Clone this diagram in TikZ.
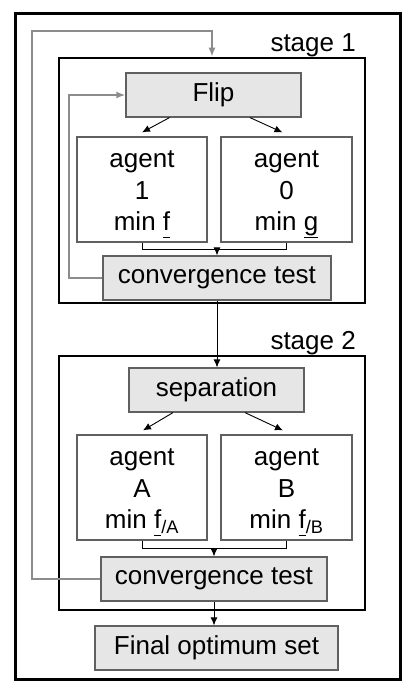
\documentclass[tikz,border=0pt]{standalone}
\usepackage{fontspec}
\setmainfont{Liberation Sans}
\usetikzlibrary{arrows.meta}
\definecolor{boxfill}{HTML}{E6E6E6}
\definecolor{boxline}{HTML}{606060}
\definecolor{fbline}{HTML}{8C8C8C}
\newcommand{\ulvec}[1]{\underline{#1\vphantom{g}}}
\newcommand{\toppad}{\rule{0pt}{27pt}}
\tikzset{
  txt/.style={font=\fontsize{26}{31.5}\selectfont, inner sep=0pt},
  graybox/.style={txt, draw=boxline, line width=1.2pt, fill=boxfill, minimum height=44pt},
  agentbox/.style={txt, draw=boxline, line width=1.2pt, fill=white, align=center, minimum width=130pt, minimum height=105pt},
  stagebox/.style={draw=black, line width=2.5pt, minimum width=306pt, inner sep=0pt},
  arr/.style={draw=black, line width=0.9pt, -{Latex[length=8pt,width=7pt]}},
  plain/.style={draw=black, line width=0.9pt},
  fb/.style={draw=fbline, line width=2pt, -{Latex[length=9pt,width=7pt]}}
}
\begin{document}
\begin{tikzpicture}[x=1pt,y=-1pt]
\useasboundingbox (0,0) rectangle (415,685);
\draw[line width=3pt] (15,14) rectangle (400,679);
% stage 1
\node[stagebox, minimum height=245pt] (stage1) at (212,180.5) {};
\node[txt, anchor=base east] (lab1) at (356,52) {stage 1};
\node[graybox, minimum width=175pt] (flip) at (213.5,95) {Flip};
\node[agentbox] (a1) at (142,189.5) {\toppad agent\\1\\min \ulvec{f}};
\node[agentbox, minimum width=131pt] (a0) at (286.5,189.5) {\toppad agent\\0\\min \ulvec{g}};
\node[graybox, minimum width=228pt] (conv1) at (217,278) {convergence test};
% stage 2
\node[stagebox, minimum height=254pt] (stage2) at (212,483) {};
\node[txt, anchor=base east] (lab2) at (356,349) {stage 2};
\node[graybox, minimum width=175pt] (sep) at (216.5,390) {separation};
\node[agentbox] (aA) at (142,487.5) {\toppad agent\\A\\min \ulvec{f}\textsubscript{/A}};
\node[agentbox, minimum width=131pt] (aB) at (286.5,487.5) {\toppad agent\\B\\min \ulvec{f}\textsubscript{/B}};
\node[graybox, minimum width=226pt] (conv2) at (214,579) {convergence test};
\node[graybox, minimum width=243pt] (final) at (216.5,648) {Final optimum set};
% connectors stage 1
\draw[arr] ([xshift=-44pt]flip.south) -- ([yshift=4pt]a1.north);
\draw[arr] ([xshift=36.5pt]flip.south) -- ([xshift=-4pt,yshift=4pt]a0.north);
\draw[plain] (a1.south) -- ++(0,7) coordinate (j1) -| (a0.south);
\draw[arr] (j1 -| conv1.north) -- (conv1.north);
\draw[fb] (conv1.west) -- ++(-33,0) |- (flip.west);
\draw[arr] (conv1.south) -- (conv1.south |- sep.north);
% connectors stage 2
\draw[arr] ([xshift=-43.5pt]sep.south) -- ([xshift=1pt,yshift=4pt]aA.north);
\draw[arr] ([xshift=28.5pt]sep.south) -- ([xshift=-3.5pt,yshift=4pt]aB.north);
\draw[plain] (aA.south) -- ++(0,8) coordinate (j2) -| (aB.south);
\draw[arr] (j2 -| conv2.north) -- (conv2.north);
\draw[arr] (conv2.south) -- (conv2.south |- final.north);
\draw[fb] (conv2.west) -- ++(-68,0) |- ([yshift=26pt]stage1.north) -- (stage1.north);
\end{tikzpicture}
\end{document}
